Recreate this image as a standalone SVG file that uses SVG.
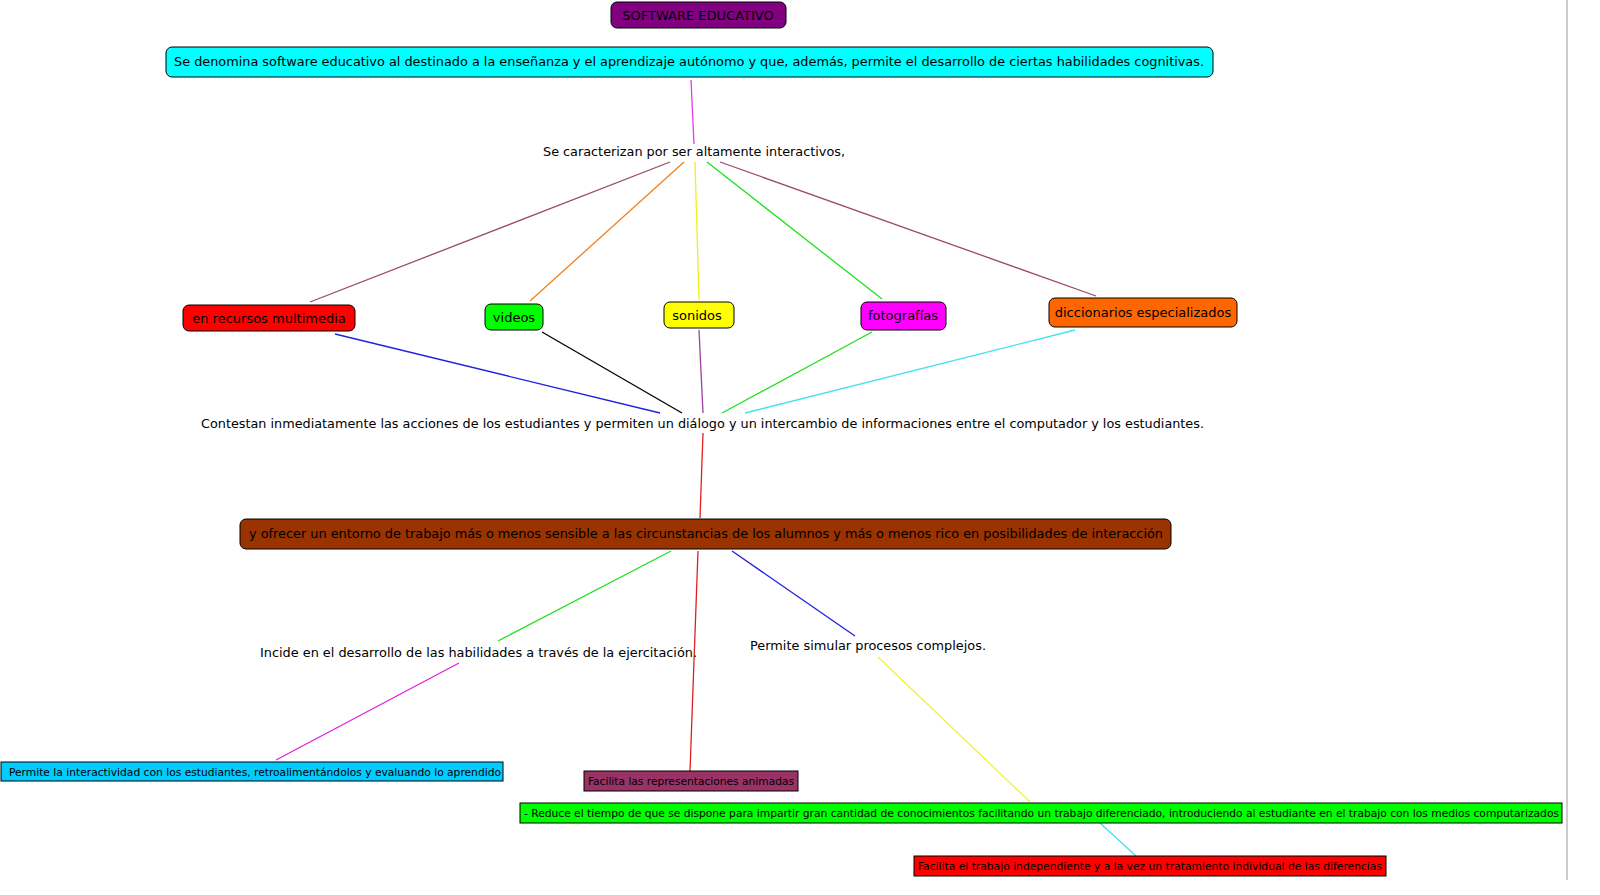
<svg xmlns="http://www.w3.org/2000/svg" width="1600" height="895" viewBox="0 0 1600 895">
<style>
text{font-family:"DejaVu Sans","Liberation Sans",sans-serif;font-size:13px;fill:#000}
.s{font-family:"DejaVu Sans Condensed","Liberation Sans Narrow","DejaVu Sans",sans-serif;font-size:11px}
.r{stroke:#000;stroke-width:1}
#c line{stroke-width:1.3}
</style>
<rect width="1600" height="895" fill="#fff"/>
<line x1="1567" y1="0" x2="1567" y2="880" stroke="#999" stroke-width="1"/>
<g id="c">
<line x1="691" y1="80" x2="694" y2="144" stroke="#e040e0"/>
<line x1="670" y1="162" x2="310" y2="302" stroke="#9a4a6a"/>
<line x1="684" y1="162" x2="530" y2="301" stroke="#f08020"/>
<line x1="695" y1="162" x2="699" y2="300" stroke="#f0f020"/>
<line x1="707" y1="162" x2="882" y2="299" stroke="#20e020"/>
<line x1="720" y1="162" x2="1096" y2="296" stroke="#9a4a6a"/>
<line x1="335" y1="334" x2="660" y2="413" stroke="#2020e0"/>
<line x1="542" y1="332" x2="682" y2="413" stroke="#000"/>
<line x1="699" y1="330" x2="703" y2="413" stroke="#a040a0"/>
<line x1="872" y1="332" x2="722" y2="413" stroke="#20e020"/>
<line x1="1075" y1="330" x2="745" y2="413" stroke="#40e0f0"/>
<line x1="703" y1="433" x2="700" y2="518" stroke="#e02020"/>
<line x1="671" y1="551" x2="498" y2="641" stroke="#20e020"/>
<line x1="698" y1="551" x2="690" y2="771" stroke="#e02020"/>
<line x1="732" y1="551" x2="855" y2="636" stroke="#2020e0"/>
<line x1="459" y1="663" x2="276" y2="760" stroke="#e020e0"/>
<line x1="878" y1="657" x2="1030" y2="802" stroke="#f0f040"/>
<line x1="1100" y1="823" x2="1136" y2="856" stroke="#40e0f0"/>
</g>
<g id="n1"><rect class="r" x="611" y="2" width="175" height="26" rx="6" fill="#800080"/><text x="698" y="20" text-anchor="middle">SOFTWARE  EDUCATIVO</text></g>
<g id="n2"><rect class="r" x="166" y="47" width="1047" height="30" rx="6" fill="#00ffff"/><text x="174" y="66" textLength="1030" lengthAdjust="spacingAndGlyphs">Se denomina software educativo al destinado a la enseñanza y el aprendizaje autónomo y que, además, permite el desarrollo de ciertas habilidades cognitivas.</text></g>
<g id="n3"><text x="543" y="156" textLength="302" lengthAdjust="spacingAndGlyphs">Se caracterizan por ser altamente interactivos,</text></g>
<g id="n4"><rect class="r" x="183" y="305" width="172" height="26" rx="6" fill="#ff0000"/><text x="269" y="323" text-anchor="middle">en  recursos multimedia</text></g>
<g id="n5"><rect class="r" x="485" y="304" width="58" height="26" rx="6" fill="#00ff00"/><text x="514" y="322" text-anchor="middle">videos</text></g>
<g id="n6"><rect class="r" x="664" y="302" width="70" height="26" rx="6" fill="#ffff00"/><text x="697" y="320" text-anchor="middle">sonidos</text></g>
<g id="n7"><rect class="r" x="861" y="302" width="85" height="28" rx="6" fill="#ff00ff"/><text x="903" y="320" text-anchor="middle">fotografías</text></g>
<g id="n8"><rect class="r" x="1049" y="298" width="188" height="29" rx="6" fill="#ff6600"/><text x="1143" y="317" text-anchor="middle">diccionarios especializados</text></g>
<g id="n9"><text x="201" y="428" textLength="1003" lengthAdjust="spacingAndGlyphs">Contestan inmediatamente las acciones de los estudiantes y permiten un diálogo y un intercambio de informaciones entre el computador y los estudiantes.</text></g>
<g id="n10"><rect class="r" x="240" y="519" width="931" height="30" rx="6" fill="#993300"/><text x="249" y="538" textLength="914" lengthAdjust="spacingAndGlyphs">y ofrecer un entorno de trabajo más o menos sensible a las circunstancias de los alumnos y más o menos rico en posibilidades de interacción</text></g>
<g id="n11"><text x="260" y="657" textLength="437" lengthAdjust="spacingAndGlyphs">Incide en el desarrollo de las habilidades a través de la ejercitación.</text></g>
<g id="n12"><text x="750" y="650" textLength="236" lengthAdjust="spacingAndGlyphs">Permite simular procesos complejos.</text></g>
<g id="n13"><rect class="r" x="1" y="762" width="502" height="19" fill="#00ccff"/><text class="s" x="9" y="776" textLength="492" lengthAdjust="spacingAndGlyphs">Permite la interactividad con los estudiantes, retroalimentándolos y evaluando lo aprendido</text></g>
<g id="n14"><rect class="r" x="584" y="771" width="214" height="20" fill="#993366"/><text class="s" x="588" y="785" textLength="206" lengthAdjust="spacingAndGlyphs">Facilita las representaciones animadas</text></g>
<g id="n15"><rect class="r" x="520" y="803" width="1042" height="20" fill="#00ff00"/><text class="s" x="524" y="817" textLength="1035" lengthAdjust="spacingAndGlyphs">- Reduce el tiempo de que se dispone para impartir gran cantidad de conocimientos facilitando un trabajo diferenciado, introduciendo al estudiante en el trabajo con los medios computarizados</text></g>
<g id="n16"><rect class="r" x="914" y="856" width="472" height="20" fill="#ff0000"/><text class="s" x="918" y="870" textLength="464" lengthAdjust="spacingAndGlyphs">Facilita el trabajo independiente y a la vez un tratamiento individual de las diferencias</text></g>
</svg>
